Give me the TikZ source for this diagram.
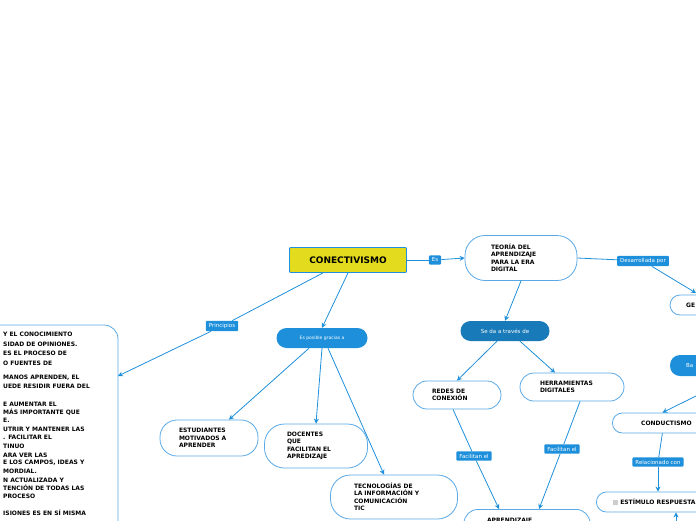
\documentclass[tikz,border=0pt]{standalone}
\usepackage{fontspec}
\setmainfont{DejaVu Sans}
\usetikzlibrary{arrows.meta}
\definecolor{lb}{HTML}{1E90DB}
\definecolor{eb}{HTML}{5AA9E6}
\definecolor{yl}{HTML}{E3DC1E}
\tikzset{
 bub/.style={draw=eb,line width=0.8pt,rounded corners=11pt,fill=white,font=\fontsize{6}{7.5}\selectfont\bfseries,align=left},
 lab/.style={fill=lb,text=white,rounded corners=1pt,font=\fontsize{5.5}{6.5}\selectfont,inner xsep=3pt,inner ysep=2.5pt},
 con/.style={draw=lb,line width=0.8pt},
 arr/.style={con,-{Stealth[length=5pt,width=5pt]}},
 ln/.style={anchor=west,font=\fontsize{6}{7}\selectfont\bfseries,inner sep=0pt},
 txt/.style={anchor=west,font=\fontsize{6}{7.5}\selectfont\bfseries,inner sep=0pt}
}
\begin{document}
\begin{tikzpicture}[x=1pt,y=-1pt]
\useasboundingbox (0,0) rectangle (696,520);
\clip (0,0) rectangle (696,520);
% big left node
\draw[draw=eb,line width=0.8pt,rounded corners=14pt,fill=white] (-100,325) rectangle (118,540);
\coordinate (big) at (118,376);
\foreach \yy/\tt in {334/Y EL CONOCIMIENTO,344/SIDAD DE OPINIONES.,353/ES EL PROCESO DE,363/O FUENTES DE,378/MANOS APRENDEN{,} EL,386/UEDE RESIDIR FUERA DEL,404/E AUMENTAR EL,412/ MÁS IMPORTANTE QUE,420/E.,429/UTRIR Y MANTENER LAS,437/. FACILITAR EL,446/TINUO,455/ARA VER LAS,463/E LOS CAMPOS{,} IDEAS Y,471/MORDIAL.,480/N ACTUALIZADA Y,488/TENCIÓN DE TODAS LAS,496/PROCESO,513/ISIONES ES EN SÍ MISMA}
  \node[ln] at (3,\yy) {\tt};
% main
\node[draw=lb,fill=yl,line width=0.8pt,minimum width=117pt,minimum height=25pt,font=\fontsize{9}{10}\selectfont\bfseries,rounded corners=1pt] (con) at (348,260) {CONECTIVISMO};
\node[bub,minimum width=112pt,minimum height=45pt,rounded corners=20pt,text width=60pt] (teo) at (521,258) {TEORÍA DEL\\APRENDIZAJE\\PARA LA ERA\\DIGITAL};
\node[lab] (es) at (435,260) {Es};
\node[lab] (des) at (643,261) {Desarrollada por};
% GE (cut off)
\draw[draw=eb,line width=0.8pt,rounded corners=10pt,fill=white] (670,295) rectangle (740,315);
\node[txt] (ge) at (686,305) {GE};
% Ba (cut off)
\fill[lb,rounded corners=10pt] (670,355) rectangle (740,376);
\node[txt,font=\fontsize{5.5}{6.5}\selectfont,text=white] (ba) at (686,366) {Ba};
\node[bub,minimum height=20pt,minimum width=100pt,anchor=west,rounded corners=10pt] (cond) at (612,423) {\hspace{8pt}CONDUCTISMO};
\node[lab] (rel) at (658,462) {Relacionado con};
\node[bub,minimum height=20pt,minimum width=110pt,anchor=west,rounded corners=10pt] (est) at (596,502) {\hspace{6pt}{\color{gray!40}\rule{5pt}{5pt}} ESTÍMULO RESPUESTA};
\coordinate (estb) at (676,530);
\node[fill=lb!85!black,rounded corners=10pt,minimum width=89pt,minimum height=20pt,text=white,font=\fontsize{5.5}{6.5}\selectfont] (se) at (505,331) {Se da a través de};
\node[bub,minimum width=88pt,minimum height=28pt,rounded corners=14pt,text width=50pt] (red) at (457,395) {REDES DE\\CONEXIÓN};
\node[bub,minimum width=104pt,minimum height=28pt,rounded corners=14pt,text width=64pt] (her) at (572,387) {HERRAMIENTAS\\DIGITALES};
\node[lab] (f1) at (474,456) {Facilitan el};
\node[lab] (f2) at (562,449) {Facilitan el};
\node[bub,minimum width=126pt,minimum height=30pt,rounded corners=14pt,anchor=north,text width=80pt] (apr) at (527,509) {APRENDIZAJE\\~};
\node[bub,minimum width=127pt,minimum height=44pt,rounded corners=20pt,text width=80pt] (tec) at (394,497) {TECNOLOGÍAS DE\\LA INFORMACIÓN Y\\COMUNICACIÓN\\TIC};
\node[fill=lb,rounded corners=10pt,minimum width=91pt,minimum height=20pt,text=white,font=\fontsize{4.5}{5.5}\selectfont] (pos) at (322,338) {Es posible gracias a};
\node[bub,minimum width=98pt,minimum height=36pt,rounded corners=17pt,text width=60pt] (estu) at (209,438) {ESTUDIANTES\\MOTIVADOS A\\APRENDER};
\node[bub,minimum width=103pt,minimum height=44pt,rounded corners=20pt,text width=58pt] (doc) at (316,446) {DOCENTES\\QUE\\FACILITAN EL\\APREDIZAJE};
\node[lab] (pri) at (222,326) {Principios};
% connectors
\draw[con] (con.east) -- (es);
\draw[arr] (es) -- (teo.west);
\draw[con] (teo.east) -- (des);
\draw[arr] (des) -- (696,293);
\draw[arr] (696,396) -- (cond.north);
\draw[con] (cond.south) -- (rel);
\draw[arr] (rel) -- (est.north -| rel);
\draw[arr] (estb) -- (est.south -| estb);
\draw[arr] (teo.south) -- (se.north);
\draw[arr] ([xshift=-8pt]se.south) -- (red.north);
\draw[arr] ([xshift=15pt]se.south) -- ([xshift=-17pt]her.north);
\draw[con] ([xshift=-4pt]red.south) -- (f1);
\draw[arr] (f1) -- ([xshift=-28pt]apr.north);
\draw[con] ([xshift=8pt]her.south) -- (f2);
\draw[arr] (f2) -- ([xshift=12pt]apr.north);
\draw[con] ([xshift=-25pt]con.south) -- (pri);
\draw[arr] (pri) -- (big);
\draw[arr] (con.south) -- (pos.north);
\draw[arr] ([xshift=-13pt]pos.south) -- ([xshift=20pt]estu.north);
\draw[arr] (pos.south) -- (doc.north);
\draw[arr] ([xshift=6pt]pos.south) -- ([xshift=-10pt]tec.north);
\end{tikzpicture}
\end{document}
